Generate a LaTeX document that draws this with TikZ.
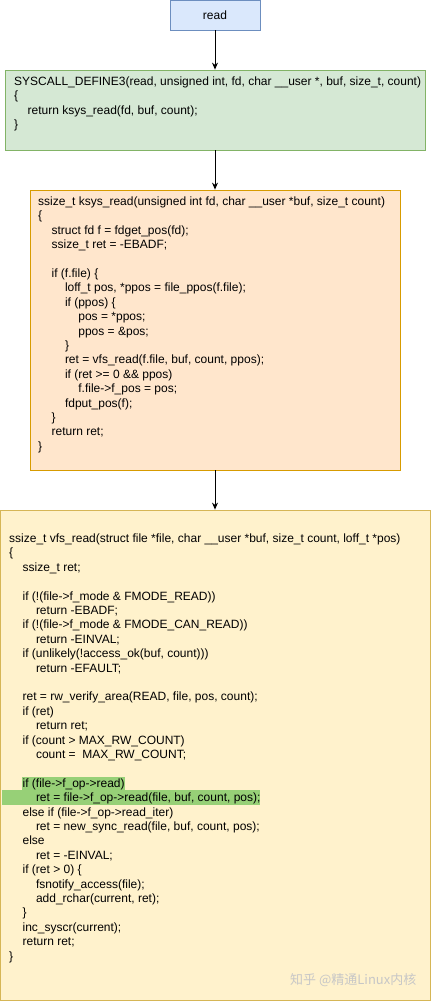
\documentclass[tikz,border=0pt]{standalone}
\usepackage{fontspec}
\setmainfont{Liberation Sans}
\newfontfamily\cjkfont{Noto Sans CJK SC}
\usetikzlibrary{arrows.meta,positioning}

\definecolor{readfill}{HTML}{DAE8FC}
\definecolor{readline}{HTML}{6C8EBF}
\definecolor{sysfill}{HTML}{D5E8D4}
\definecolor{sysline}{HTML}{82B366}
\definecolor{ksysfill}{HTML}{FFE6CC}
\definecolor{ksysline}{HTML}{D79B00}
\definecolor{vfsfill}{HTML}{FFF2CC}
\definecolor{vfsline}{HTML}{D6B656}
\definecolor{hlgreen}{HTML}{97D077}

\newcommand\ind{\hspace*{13.4pt}}

\tikzset{
  codebox/.style={draw, line width=0.8pt, minimum width=#1, inner sep=0pt},
  code/.style={anchor=north west, align=left, inner sep=0pt},
  flow/.style={-{Stealth[length=7pt,width=6pt]}, line width=0.9pt}
}

\begin{document}
\begin{tikzpicture}[x=1pt, y=1pt, font=\fontsize{12}{14.4}\selectfont]
\useasboundingbox (0,0) rectangle (431,-1001);

% boxes
\node[codebox=90pt, minimum height=30pt, fill=readfill, draw=readline] (read) at (215,-15) {read};
\node[codebox=420pt, minimum height=80pt, fill=sysfill, draw=sysline] (sys) at (215,-110) {};
\node[codebox=370pt, minimum height=280pt, fill=ksysfill, draw=ksysline] (ksys) at (215,-330) {};
\node[codebox=430pt, minimum height=490pt, fill=vfsfill, draw=vfsline] (vfs) at (215,-755) {};

\draw[flow] (read) -- (sys);
\draw[flow] (sys) -- (ksys);
\draw[flow] (ksys) -- (vfs);

% highlighted call
\fill[hlgreen] (22,-777) rectangle (125,-790);
\fill[hlgreen] (2,-790) rectangle (260,-805);

\node[code] (syscode) at (14,-76.5) {%
SYSCALL\_DEFINE3(read, unsigned int, fd, char \_\_user *, buf, size\_t, count)\\
\{\\
\ind return ksys\_read(fd, buf, count);\\
\}};

\node[code] (ksyscode) at (38,-196.5) {%
ssize\_t ksys\_read(unsigned int fd, char \_\_user *buf, size\_t count)\\
\{\\
\ind struct fd f = fdget\_pos(fd);\\
\ind ssize\_t ret = -EBADF;\\
\mbox{}\\
\ind if (f.file) \{\\
\ind\ind loff\_t pos, *ppos = file\_ppos(f.file);\\
\ind\ind if (ppos) \{\\
\ind\ind\ind pos = *ppos;\\
\ind\ind\ind ppos = \&pos;\\
\ind\ind \}\\
\ind\ind ret = vfs\_read(f.file, buf, count, ppos);\\
\ind\ind if (ret >= 0 \&\& ppos)\\
\ind\ind\ind f.file->f\_pos = pos;\\
\ind\ind fdput\_pos(f);\\
\ind \}\\
\ind return ret;\\
\}};

\node[code] (vfscode) at (9,-533.5) {%
ssize\_t vfs\_read(struct file *file, char \_\_user *buf, size\_t count, loff\_t *pos)\\
\{\\
\ind ssize\_t ret;\\
\mbox{}\\
\ind if (!(file->f\_mode \& FMODE\_READ))\\
\ind\ind return -EBADF;\\
\ind if (!(file->f\_mode \& FMODE\_CAN\_READ))\\
\ind\ind return -EINVAL;\\
\ind if (unlikely(!access\_ok(buf, count)))\\
\ind\ind return -EFAULT;\\
\mbox{}\\
\ind ret = rw\_verify\_area(READ, file, pos, count);\\
\ind if (ret)\\
\ind\ind return ret;\\
\ind if (count > MAX\_RW\_COUNT)\\
\ind\ind count =\ \ MAX\_RW\_COUNT;\\
\mbox{}\\
\ind if (file->f\_op->read)\\
\ind\ind ret = file->f\_op->read(file, buf, count, pos);\\
\ind else if (file->f\_op->read\_iter)\\
\ind\ind ret = new\_sync\_read(file, buf, count, pos);\\
\ind else\\
\ind\ind ret = -EINVAL;\\
\ind if (ret > 0) \{\\
\ind\ind fsnotify\_access(file);\\
\ind\ind add\_rchar(current, ret);\\
\ind \}\\
\ind inc\_syscr(current);\\
\ind return ret;\\
\}};

\node[anchor=west, inner sep=0pt, text=black!22] (mark) at (290,-980) {\cjkfont\fontsize{13}{15}\selectfont 知乎 @精通Linux内核};
\end{tikzpicture}
\end{document}
